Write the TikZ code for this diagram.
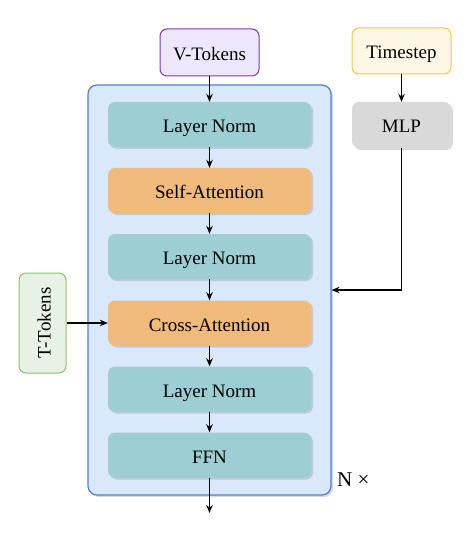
\documentclass[tikz,border=0pt]{standalone}
\usepackage{fontspec}
\setmainfont{Liberation Serif}
\usetikzlibrary{arrows.meta,shadows}
\definecolor{lnfill}{HTML}{9CCED3}
\definecolor{atfill}{HTML}{F0BA7D}
\definecolor{contfill}{HTML}{DAE8FC}
\definecolor{contdraw}{HTML}{4F7FD0}
\definecolor{vfill}{HTML}{EEE7FC}
\definecolor{vdraw}{HTML}{7A3AA8}
\definecolor{tsfill}{HTML}{FFF7E6}
\definecolor{tsdraw}{HTML}{F8C640}
\definecolor{mlpfill}{HTML}{D9D9D9}
\definecolor{ttfill}{HTML}{E8F2E4}
\definecolor{ttdraw}{HTML}{8CC06C}
\tikzset{
  lbl/.style={font=\fontsize{19}{21}\selectfont, inner sep=0pt, text height=16pt, text depth=0pt},
  blk/.style={lbl, rounded corners=7pt, minimum width=203pt, minimum height=45pt,
    drop shadow={opacity=0.3, shadow xshift=2pt, shadow yshift=-2pt}},
  lnbox/.style={blk, fill=lnfill},
  atbox/.style={blk, fill=atfill},
  inbox/.style={lbl, rounded corners=7pt, minimum width=99pt, minimum height=47pt, line width=1pt},
  arr/.style={-{Stealth[length=8pt,width=6.5pt]}, line width=1.4pt, black}
}
\begin{document}
\begin{tikzpicture}[x=1pt,y=-1pt]
\useasboundingbox (0,0) rectangle (468,540);
% container
\node[draw=contdraw, fill=contfill, line width=1.2pt, rounded corners=9pt,
  minimum width=243pt, minimum height=410pt, inner sep=0pt,
  drop shadow={opacity=0.3, shadow xshift=2pt, shadow yshift=-2pt}] (cont) at (209.5,290) {};
% blocks
\node[lnbox] (ln1) at (209.5,124.5) {Layer Norm};
\node[atbox] (sa)  at (209.5,190.5) {Self-Attention};
\node[lnbox] (ln2) at (209.5,256.5) {Layer Norm};
\node[atbox] (ca)  at (209.5,323)   {Cross-Attention};
\node[lnbox] (ln3) at (209.5,389)   {Layer Norm};
\node[lnbox] (ffn) at (209.5,455)   {FFN};
% inputs
\node[inbox, draw=vdraw, fill=vfill] (vt) at (209.5,52.5) {V-Tokens};
\node[inbox, draw=tsdraw, fill=tsfill, minimum height=46pt] (ts) at (401.5,51) {Timestep};
\node[lbl, rounded corners=7pt, minimum width=99pt, minimum height=46pt, fill=mlpfill,
  drop shadow={opacity=0.3, shadow xshift=2pt, shadow yshift=-2pt}] (mlp) at (401.5,125) {MLP};
\node[lbl, draw=ttdraw, fill=ttfill, line width=1pt, rounded corners=7pt,
  minimum width=100pt, minimum height=47pt, rotate=90] (tt) at (42.5,323) {T-Tokens};
\node[font=\fontsize{21}{23}\selectfont, inner sep=0pt, anchor=west] (nx) at (337,480) {N ×};
\coordinate (out) at (209.5,513);
% arrows
\draw[arr] (vt.south) -- (ln1.north);
\draw[arr] (ln1.south) -- (sa.north);
\draw[arr] (sa.south) -- (ln2.north);
\draw[arr] (ln2.south) -- (ca.north);
\draw[arr] (ca.south) -- (ln3.north);
\draw[arr] (ln3.south) -- (ffn.north);
\draw[arr] (ffn.south) -- (out);
\draw[arr] (tt.south) -- (ca.west);
\draw[arr] (ts.south) -- (mlp.north);
\draw[arr] (mlp.south) |- (cont.east);
\end{tikzpicture}
\end{document}
